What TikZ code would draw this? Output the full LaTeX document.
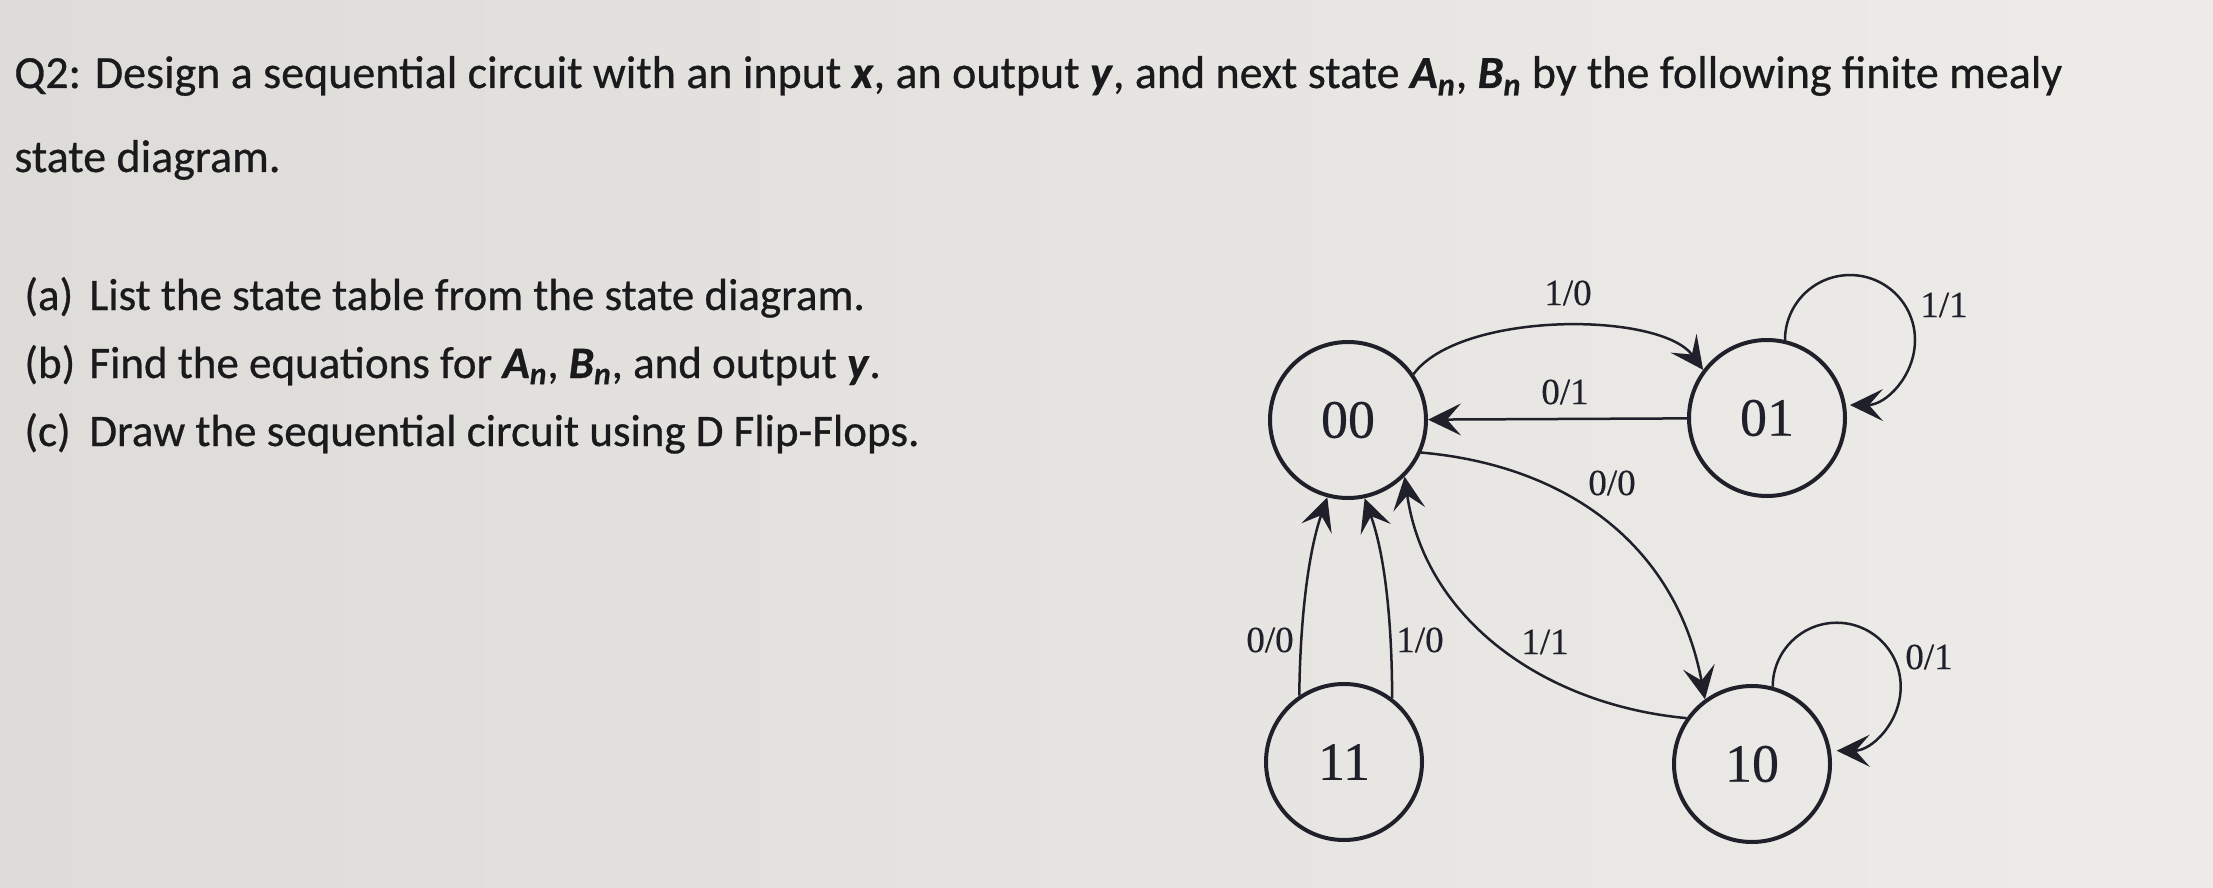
\documentclass[tikz,border=0pt]{standalone}
\usepackage{fontspec}
\newfontfamily\calib{Carlito}[FakeBold=0.6]
\newfontfamily\serifd{Liberation Serif}[FakeBold=0.4]
\usetikzlibrary{arrows.meta}
\definecolor{ink}{RGB}{32,32,42}
\definecolor{textc}{RGB}{26,26,28}
\definecolor{bgl}{RGB}{222,220,216}
\definecolor{bgr}{RGB}{237,236,232}
\newcommand{\bi}[1]{\textbf{\textit{#1}}}
\begin{document}
\begin{tikzpicture}[x=0.5pt,y=0.5pt,
  state/.style={circle, draw=ink, line width=2pt, minimum size=78pt, inner sep=0pt, text=ink, font=\serifd\fontsize{27}{27}\selectfont},
  trans/.style={draw=ink, line width=1.25pt, -{Stealth[length=16.5pt,width=16pt,inset=7pt]}},
  lbl/.style={font=\serifd\fontsize{18.5}{18.5}\selectfont, text=ink, inner sep=0pt},
  txt/.style={font=\calib\fontsize{23}{26}\selectfont, anchor=base west, inner sep=0pt, text=textc},
  itm/.style={font=\calib\fontsize{22.5}{26}\selectfont, anchor=base west, inner sep=0pt, text=textc}]
\fill[left color=bgl, right color=bgr] (0,0) rectangle (2213,-888);
\useasboundingbox (0,0) rectangle (2213,-888);
% text
\node[txt] (t1) at (14,-88) {Q2: Design a sequential circuit with an input \bi{x}, an output \bi{y}, and next state \bi{A\textsubscript{n}}, \bi{B\textsubscript{n}} by the following finite mealy};
\node[txt] (t2) at (14,-172) {state diagram.};
\node[itm] (ia) at (24,-310) {(a)};
\node[itm] (ta) at (89,-310) {List the state table from the state diagram.};
\node[itm] (ib) at (24,-378) {(b)};
\node[itm] (tb) at (89,-378) {Find the equations for \bi{A\textsubscript{n}}, \bi{B\textsubscript{n}}, and output \bi{y}.};
\node[itm] (ic) at (24,-446) {(c)};
\node[itm] (tc) at (89,-446) {Draw the sequential circuit using D Flip-Flops.};
% states
\node[state] (s00) at (1348,-420) {00};
\node[state] (s01) at (1767,-418) {01};
\node[state] (s11) at (1344,-762) {11};
\node[state] (s10) at (1752,-764) {10};
% transitions
\draw[trans] (s00.35) .. controls (1460,-311) and (1660,-311) .. (s01.143);
\draw[trans] (s01) -- (s00);
\draw[trans] (s00.-24) .. controls (1573,-466) and (1677,-550) .. (s10.126);
\draw[trans] (s10.145) .. controls (1545,-705) and (1425,-620) .. (s00.-45);
\draw[trans] (s11.124) .. controls (1300,-627) and (1307,-556) .. (s00.-105);
\draw[trans] (s11.53) .. controls (1392,-628) and (1386,-558) .. (s00.-78);
\draw[trans] (s01.77) arc[start angle=180, end angle=-90, radius=32.5pt];
\draw[trans] (s10.75) arc[start angle=180, end angle=-90, radius=32pt];
% labels
\node[lbl] (l1) at (1568,-293) {1/0};
\node[lbl] (l2) at (1565,-392) {0/1};
\node[lbl] (l3) at (1612,-483) {0/0};
\node[lbl] (l4) at (1545,-642) {1/1};
\node[lbl] (l5) at (1270,-640) {0/0};
\node[lbl] (l6) at (1420,-640) {1/0};
\node[lbl] (l7) at (1944,-305) {1/1};
\node[lbl] (l8) at (1929,-657) {0/1};
\end{tikzpicture}
\end{document}
